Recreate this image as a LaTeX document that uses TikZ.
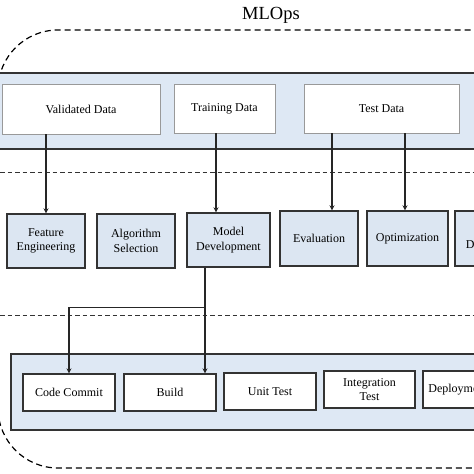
\documentclass[tikz,border=0pt]{standalone}
\usepackage{fontspec}
\setmainfont{Liberation Serif}
\usepackage{tikz}
\usepackage{xcolor}
\usetikzlibrary{positioning, calc, arrows.meta}
\definecolor{bandblue}{HTML}{DEE8F4}
\definecolor{boxblue}{HTML}{DCE6F2}
\definecolor{edge}{HTML}{333333}

\begin{document}
\begin{tikzpicture}[x=1pt, y=-1pt,
        every node/.style={font=\fontsize{12}{14.5}\selectfont, align=center, inner sep=1pt},
        databox/.style={draw=gray!80, line width=0.9pt, fill=white},
        midbox/.style={draw=edge, line width=1.4pt, fill=boxblue},
        cibox/.style={draw=edge, line width=1.3pt, fill=white},
        arr/.style={draw=black!85, line width=1.1pt, -{Stealth[length=5pt, width=5pt]}},
        layer/.style={draw=black!80, line width=0.9pt, dash pattern=on 4.5pt off 3pt}]
        \useasboundingbox (0,0) rectangle (474,474);
        % outer dashed frame
        \draw[line width=1.2pt, dash pattern=on 6pt off 4pt, rounded corners=60pt] (-2,30) rectangle (620,468);
        \node[font=\fontsize{18.5}{20}\selectfont] (title) at (271,15) {MLOps};
        % bands and layer lines
        \fill[bandblue] (-5,73) rectangle (490,149);
        \draw[edge, line width=1.3pt] (-5,73) -- (490,73) (-5,149) -- (490,149);
        \draw[layer] (0,172) -- (474,172);
        \draw[layer] (0,315) -- (474,315);
        \draw[edge, line width=1.3pt, fill=bandblue] (11,354) rectangle (490,430);
        % data
        \node[databox, minimum width=158pt, minimum height=50pt] (vd) at (81,109) {Validated Data};
        \node[databox, minimum width=101pt, minimum height=49pt] (td) at (224.5,108.5) {Training Data};
        \node[databox, minimum width=155pt, minimum height=49pt] (ted) at (381.5,108.5) {Test Data};
        % model
        \node[midbox, minimum width=78pt, minimum height=54pt] (fe) at (46,241) {Feature\\Engineering};
        \node[midbox, minimum width=78pt, minimum height=54pt] (as) at (136,241) {Algorithm\\Selection};
        \node[midbox, minimum width=83pt, minimum height=54pt] (md) at (228.5,240) {Model\\Development};
        \node[midbox, minimum width=78pt, minimum height=55pt] (ev) at (319,238.5) {Evaluation};
        \node[midbox, minimum width=81pt, minimum height=55pt] (op) at (407.5,238.5) {Optimization};
        \node[midbox, minimum width=81pt, minimum height=55pt] (mdp) at (495.5,238.5) {\phantom{M}\\Deployment};
        % ci/cd
        \node[cibox, minimum width=92pt, minimum height=37pt] (cc) at (69,392.5) {Code Commit};
        \node[cibox, minimum width=92pt, minimum height=37pt] (bu) at (170,392.5) {Build};
        \node[cibox, minimum width=92pt, minimum height=37pt] (ut) at (270,391.5) {Unit Test};
        \node[cibox, minimum width=91pt, minimum height=37pt] (it) at (369.5,389.5) {Integration\\Test};
        \node[cibox, minimum width=70pt, minimum height=37pt] (dep) at (458,389.5) {Deployment};
        % connectors
        \draw[arr] (fe.north |- vd.south) -- (fe.north);
        \path (td.south) ++(-8.5,0) coordinate (t1);
        \draw[arr] (t1) -- (t1 |- md.north);
        \path (ted.south) ++(-49.5,0) coordinate (e1);
        \path (ted.south) ++(23.5,0) coordinate (e2);
        \draw[arr] (e1) -- (e1 |- ev.north);
        \draw[arr] (e2) -- (e2 |- op.north);
        \path (md.south) ++(-23.5,0) coordinate (m1);
        \draw[arr] (m1) -- ++(0,40) coordinate (m2) -| (cc.north);
        \draw[arr] (m2) -- (m2 |- bu.north);
    \end{tikzpicture}
\end{document}
